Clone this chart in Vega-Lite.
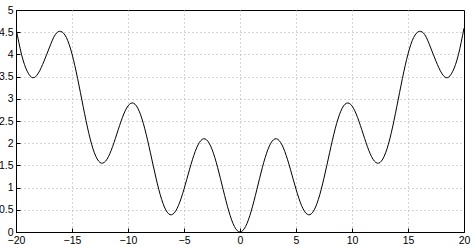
{
  "$schema": "https://vega.github.io/schema/vega-lite/v6.json",
  "width": 448,
  "height": 222,
  "autosize": {"type": "none"},
  "padding": {"left": 16, "top": 10, "right": 10, "bottom": 15},
  "background": "white",
  "config": {
    "view": {"stroke": "black", "strokeWidth": 1},
    "axis": {
      "labelFont": "Liberation Sans",
      "labelFontSize": 10.5,
      "labelColor": "black",
      "domainColor": "black",
      "tickColor": "black",
      "tickSize": -4,
      "gridColor": "#aaaaaa",
      "gridDash": [1, 3],
      "format": "~g",
      "title": null
    }
  },
  "data": {"values": [
    {"x": -20, "y": 4.5919}, {"x": -19.5, "y": 3.9923}, {"x": -19, "y": 3.6213}, {"x": -18.5, "y": 3.4741},
    {"x": -18, "y": 3.5797}, {"x": -17.5, "y": 3.8474}, {"x": -17, "y": 4.1652}, {"x": -16.5, "y": 4.4434},
    {"x": -16, "y": 4.5177}, {"x": -15.5, "y": 4.3791}, {"x": -15, "y": 4.0097}, {"x": -14.5, "y": 3.4574},
    {"x": -14, "y": 2.8233}, {"x": -13.5, "y": 2.2242}, {"x": -13, "y": 1.7826}, {"x": -12.5, "y": 1.5653},
    {"x": -12, "y": 1.5962}, {"x": -11.5, "y": 1.8392}, {"x": -11, "y": 2.2056}, {"x": -10.5, "y": 2.578},
    {"x": -10, "y": 2.8391}, {"x": -9.5, "y": 2.8997}, {"x": -9, "y": 2.7211}, {"x": -8.5, "y": 2.3245},
    {"x": -8, "y": 1.7855}, {"x": -7.5, "y": 1.2159}, {"x": -7, "y": 0.7361}, {"x": -6.5, "y": 0.4459},
    {"x": -6, "y": 0.3998}, {"x": -5.5, "y": 0.5938}, {"x": -5, "y": 0.9663}, {"x": -4.5, "y": 1.4133},
    {"x": -4, "y": 1.8136}, {"x": -3.5, "y": 2.059}, {"x": -3, "y": 2.08}, {"x": -2.5, "y": 1.8636},
    {"x": -2, "y": 1.4561}, {"x": -1.5, "y": 0.9518}, {"x": -1, "y": 0.4697}, {"x": -0.5, "y": 0.1249},
    {"x": 0, "y": 0},
    {"x": 0.5, "y": 0.1249}, {"x": 1, "y": 0.4697}, {"x": 1.5, "y": 0.9518}, {"x": 2, "y": 1.4561},
    {"x": 2.5, "y": 1.8636}, {"x": 3, "y": 2.08}, {"x": 3.5, "y": 2.059}, {"x": 4, "y": 1.8136},
    {"x": 4.5, "y": 1.4133}, {"x": 5, "y": 0.9663}, {"x": 5.5, "y": 0.5938}, {"x": 6, "y": 0.3998},
    {"x": 6.5, "y": 0.4459}, {"x": 7, "y": 0.7361}, {"x": 7.5, "y": 1.2159}, {"x": 8, "y": 1.7855},
    {"x": 8.5, "y": 2.3245}, {"x": 9, "y": 2.7211}, {"x": 9.5, "y": 2.8997}, {"x": 10, "y": 2.8391},
    {"x": 10.5, "y": 2.578}, {"x": 11, "y": 2.2056}, {"x": 11.5, "y": 1.8392}, {"x": 12, "y": 1.5962},
    {"x": 12.5, "y": 1.5653}, {"x": 13, "y": 1.7826}, {"x": 13.5, "y": 2.2242}, {"x": 14, "y": 2.8233},
    {"x": 14.5, "y": 3.4574}, {"x": 15, "y": 4.0097}, {"x": 15.5, "y": 4.3791}, {"x": 16, "y": 4.5177},
    {"x": 16.5, "y": 4.4434}, {"x": 17, "y": 4.1652}, {"x": 17.5, "y": 3.8474}, {"x": 18, "y": 3.5797},
    {"x": 18.5, "y": 3.4741}, {"x": 19, "y": 3.6213}, {"x": 19.5, "y": 3.9923}, {"x": 20, "y": 4.5919}
  ]},
  "mark": {"type": "line", "color": "black", "strokeWidth": 1, "interpolate": "natural", "clip": true},
  "encoding": {
    "x": {
      "field": "x", "type": "quantitative",
      "scale": {"domain": [-20, 20], "nice": false},
      "axis": {
        "values": [-20, -15, -10, -5, 0, 5, 10, 15, 20], "labelPadding": 7, "labelFlush": false,
        "gridOpacity": {"condition": {"test": "abs(datum.value) == 20", "value": 0}, "value": 1}
      }
    },
    "y": {
      "field": "y", "type": "quantitative",
      "scale": {"domain": [0, 5], "nice": false, "zero": false},
      "axis": {
        "values": [0, 0.5, 1, 1.5, 2, 2.5, 3, 3.5, 4, 4.5, 5], "labelPadding": 7, "labelFlush": false,
        "gridOpacity": {"condition": {"test": "datum.value == 0 || datum.value == 5", "value": 0}, "value": 1}
      }
    }
  }
}
